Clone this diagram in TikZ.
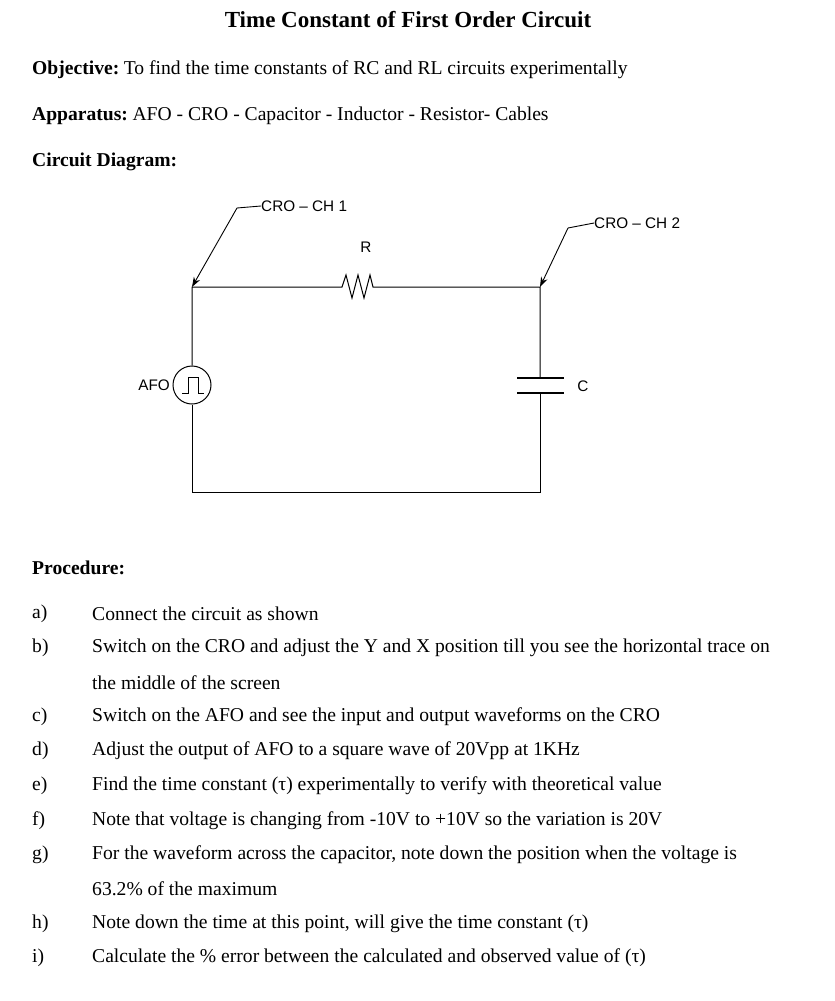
\documentclass[tikz,border=0pt]{standalone}
\usepackage{fontspec}
\setmainfont{Liberation Serif}
\setsansfont{Liberation Sans}
\usetikzlibrary{arrows.meta}
\begin{document}
\begin{tikzpicture}[x=1pt,y=-1pt,
  txt/.style={anchor=west,inner sep=0pt,font=\fontsize{19.6}{22}\selectfont},
  lbl/.style={inner sep=0pt,font=\sffamily\fontsize{15.3}{17}\selectfont},
  wire/.style={line width=1pt},
  probe/.style={line width=0.9pt,-{Stealth[length=10pt,width=7pt]}}]
\useasboundingbox (0,0) rectangle (835,1001);
\node[inner sep=0pt,font=\bfseries\fontsize{23}{26}\selectfont] (title) at (408,20) {Time Constant of First Order Circuit};
\node[txt] (obj) at (32,70) {\textbf{Objective:}\kern-2pt{} To find the time constants of RC and RL circuits experimentally};
\node[txt] (app) at (32,116) {\textbf{Apparatus:}\kern-2pt{} AFO - CRO - Capacitor - Inductor - Resistor- Cables};
\node[txt] (cd) at (32,162) {\textbf{Circuit Diagram:}};
% circuit
\coordinate (tl) at (192,287);
\coordinate (tr) at (540,287);
\coordinate (bl) at (192,492);
\coordinate (br) at (540,492);
\node[circle,draw,line width=1pt,minimum size=38pt,inner sep=0pt] (afo) at (192,385) {};
\draw[line width=1pt] (182,393) -- (188,393) -- (188,377) -- (198,377) -- (198,393) -- (204,393);
\node[lbl,anchor=east] (afol) at (170,385) {AFO};
\coordinate (r1) at (342,287);
\coordinate (r2) at (376,287);
\coordinate (c1) at (540,378);
\coordinate (c2) at (540,393);
\draw[wire] (afo.north) -- (tl) -- (r1) -- (346,275) -- (352,298) -- (358,275) -- (364,298) -- (370,275) -- (373,287) -- (r2) -- (tr) -- (c1);
\draw[wire] (c2) -- (br) -- (bl) -- (afo.south);
\draw[line width=1.3pt] (517,378) -- (564,378);
\draw[line width=1.3pt] (517,393) -- (564,393);
\node[lbl] (rl) at (366,247) {R};
\node[lbl] (cl) at (583,386) {C};
\node[lbl,anchor=west] (ch1) at (261,206) {CRO -- CH 1};
\node[lbl,anchor=west] (ch2) at (594,223) {CRO -- CH 2};
\coordinate (p1) at (237,208);
\coordinate (p2) at (568,228);
\draw[line width=0.9pt] (p1) -- (ch1.west);
\draw[line width=0.9pt] (p2) -- (ch2.west);
\draw[probe] (p1) -- (tl);
\draw[probe] (p2) -- (tr);
% procedure
\node[txt] (proc) at (32,568) {\textbf{Procedure:}};
\foreach \l/\y/\t in {a)/614/{Connect the circuit as shown},
  b)/648/{Switch on the CRO and adjust the Y and X position till you see the horizontal trace on},
  /683/{the middle of the screen},
  c)/717/{Switch on the AFO and see the input and output waveforms on the CRO},
  d)/751/{Adjust the output of AFO to a square wave of 20Vpp at 1KHz},
  e)/786/{Find the time constant (τ) experimentally to verify with theoretical value},
  f)/821/{Note that voltage is changing from -10V to +10V so the variation is 20V},
  g)/855/{For the waveform across the capacitor, note down the position when the voltage is},
  /889/{63.2\% of the maximum},
  h)/924/{Note down the time at this point, will give the time constant (τ)},
  i)/958/{Calculate the \% error between the calculated and observed value of (τ)}}
{
  \node[txt] at (32,\y) {\l};
  \node[txt] at (92,\y) {\t};
}
\end{tikzpicture}
\end{document}
